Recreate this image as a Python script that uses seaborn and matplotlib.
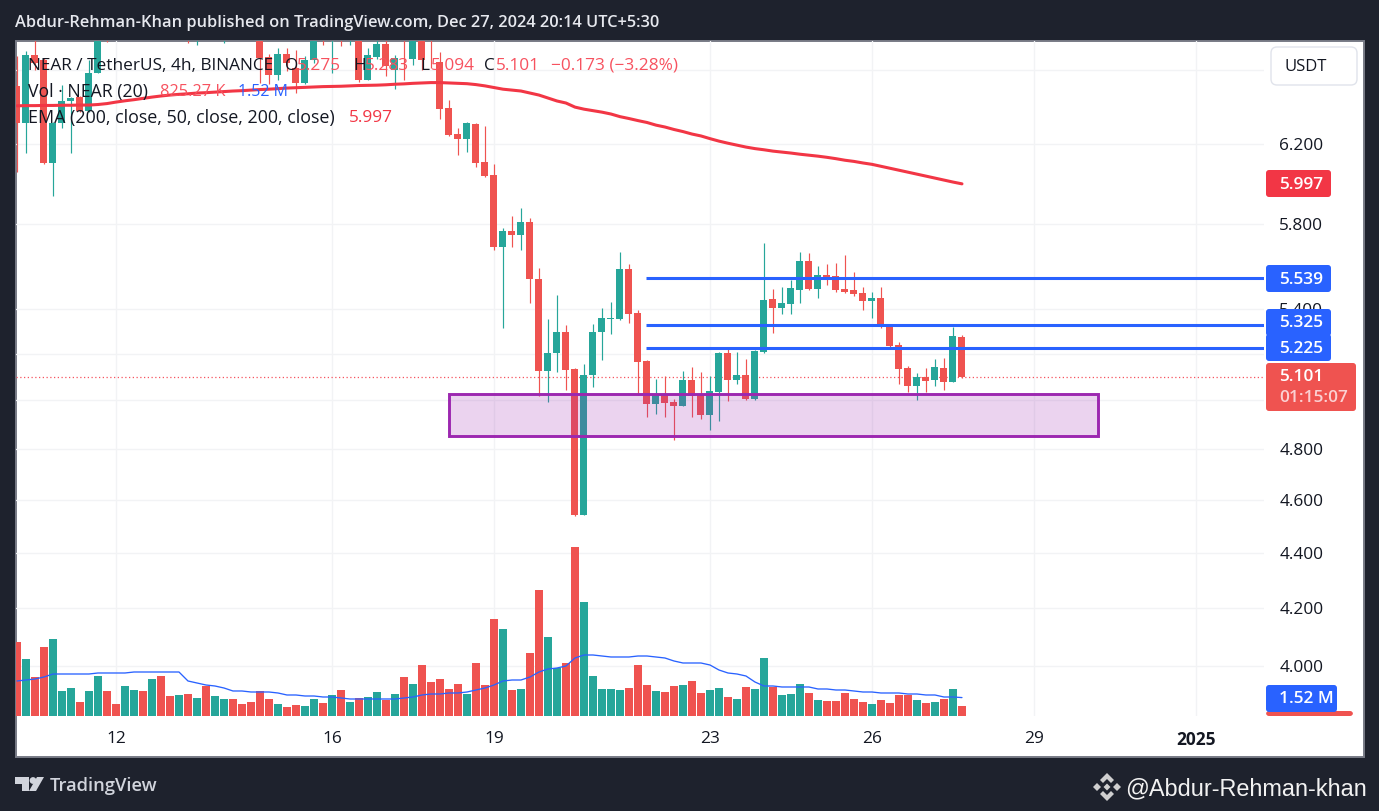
import numpy as np
import pandas as pd
import seaborn as sns
import matplotlib
matplotlib.use("Agg")
import matplotlib.pyplot as plt
from matplotlib.patches import FancyBboxPatch, Rectangle, Polygon, Circle
from matplotlib.ticker import FixedLocator, FuncFormatter, NullLocator
from matplotlib.transforms import IdentityTransform

# ---------- data ----------
bars = list(range(-11, 95))
opens = [6.510,6.311,6.681,6.653,6.101,6.311,6.429,6.450,6.375,6.581,6.950,
 6.900,6.840,6.920,6.980,6.920,7.020,6.940,6.900,6.950,6.870,6.930,6.860,6.860,6.910,6.870,6.840,
 6.800,6.670,6.570,6.686,6.609,6.526,6.653,6.860,6.800,6.880,6.830,6.760,6.543,6.670,6.743,6.598,
 6.860,6.659,6.850,6.800,6.642,6.391,6.253,6.227,6.306,6.107,6.041,5.687,5.764,5.745,5.807,5.537,
 5.126,5.204,5.296,5.134,4.543,5.108,5.296,5.354,5.354,5.583,5.381,5.169,4.986,5.028,4.995,4.978,
 5.087,5.024,4.941,5.037,5.204,5.087,5.108,5.007,5.208,5.445,5.403,5.422,5.486,5.620,5.490,5.555,
 5.550,5.490,5.486,5.472,5.436,5.449,5.331,5.239,5.139,5.062,5.100,5.087,5.139,5.079,5.275]
highs = [6.676,6.703,6.780,6.664,6.316,6.515,6.448,6.455,6.653,6.920,7.000,
 6.950,6.980,7.020,7.000,7.060,7.050,6.980,6.980,6.970,6.960,6.950,6.930,6.940,6.930,6.890,6.860,
 6.830,6.690,6.720,6.720,6.709,6.675,6.850,6.900,6.920,6.900,6.950,6.820,6.720,6.770,6.766,6.681,
 6.900,6.900,6.900,6.850,6.700,6.434,6.285,6.316,6.311,6.295,6.097,5.779,5.836,5.876,5.827,5.587,
 5.354,5.463,5.327,5.138,5.156,5.331,5.403,5.431,5.663,5.606,5.394,5.173,5.091,5.104,5.007,5.126,
 5.143,5.121,5.104,5.208,5.221,5.208,5.177,5.217,5.706,5.490,5.500,5.532,5.663,5.658,5.597,5.606,
 5.611,5.649,5.569,5.500,5.477,5.500,5.333,5.252,5.147,5.117,5.139,5.177,5.182,5.318,5.283]
lows = [6.056,6.154,6.600,6.096,5.936,6.285,6.154,6.370,6.370,6.580,6.755,
 6.800,6.800,6.880,6.860,6.890,6.900,6.850,6.840,6.750,6.738,6.800,6.820,6.750,6.840,6.800,6.780,
 6.526,6.520,6.543,6.592,6.472,6.520,6.640,6.740,6.581,6.731,6.738,6.532,6.543,6.660,6.565,6.493,
 6.543,6.625,6.598,6.609,6.332,6.245,6.143,6.159,6.081,6.030,5.673,5.314,5.687,5.673,5.426,5.020,
 4.995,5.121,5.045,4.539,4.540,5.058,5.173,5.287,5.350,5.336,5.024,4.932,4.945,4.932,4.838,4.975,
 4.932,4.924,4.878,4.916,4.999,5.070,5.003,5.003,5.205,5.291,5.376,5.376,5.426,5.486,5.449,5.509,
 5.477,5.474,5.458,5.394,5.358,5.314,5.230,5.070,5.037,5.003,5.037,5.062,5.045,5.076,5.094]
closes = [6.311,6.681,6.636,6.101,6.311,6.429,6.445,6.375,6.581,6.880,6.850,
 6.840,6.920,6.980,6.920,7.020,6.940,6.900,6.950,6.870,6.930,6.860,6.900,6.910,6.870,6.840,6.800,
 6.664,6.570,6.686,6.636,6.526,6.653,6.800,6.800,6.880,6.830,6.900,6.543,6.681,6.743,6.620,6.664,
 6.780,6.850,6.653,6.780,6.385,6.247,6.227,6.311,6.101,6.036,5.687,5.764,5.745,5.807,5.537,5.126,
 5.204,5.296,5.130,4.543,5.108,5.296,5.358,5.358,5.583,5.376,5.164,4.986,5.028,4.990,4.978,5.087,
 5.020,4.941,5.041,5.204,5.087,5.108,5.007,5.212,5.440,5.403,5.426,5.495,5.620,5.490,5.555,5.546,
 5.486,5.477,5.468,5.436,5.449,5.327,5.235,5.134,5.062,5.100,5.083,5.143,5.079,5.278,5.101]
vol_k = [6105,4703,3218,5693,6353,2063,2310,1155,2063,3300,2063,
 990,2475,2145,2063,3053,3300,1650,1733,1815,1485,2475,1650,1403,1403,990,1155,
 2063,1403,990,743,908,825,1403,1073,1733,2145,
 1155,1485,1568,1980,1320,1815,3218,2640,4208,2805,3053,2228,2640,1815,4373,2558,
 8003,7178,2145,2228,5198,10395,6518,3960,4373,13943,9405,3300,2228,2228,2145,2310,4208,2558,2063,1980,
 2475,2558,2888,1898,2145,2310,1568,1403,2393,2228,4785,2393,1733,1815,2640,1898,
 1320,1238,1238,1898,1403,1155,990,1320,1073,1733,1733,1320,1073,1155,1403,2228,825.27]
vol_side = list("RGRRGGGRGGR" "RGGRGRRGRGRGGRRR" "RRGRRGGRGR"
 "GRGGRGRGRRRRRGRR" "RGRGRRGGRRGGGGGRRRGR" "RGRRGGRGRGGRGGGR" "GRRRRRGRRRRGRGRGR")
vol_ma_k = [2888,2970,3053,3218,3465,3465,3465,3465,3465,3548,3548,
 3548,3548,3630,3630,3630,3630,3630,3630,2888,2723,2558,2475,2310,2063,2063,1980,
 1980,1980,1898,1733,1733,1650,1650,1568,1568,1485,
 1403,1403,1403,1403,1403,1403,1485,1568,1733,1815,1815,1898,1898,1980,2145,2310,
 2558,2888,2970,2970,3218,3630,3878,3960,4125,4785,5033,5033,4950,4868,4868,4868,4950,4950,4868,4785,
 4538,4373,4373,4373,4208,3795,3548,3465,3300,2805,2475,2475,2393,2393,2393,2393,
 2228,2228,2145,2145,2063,1980,1980,1898,1898,1898,1815,1815,1733,1733,1568,1568,1520]
ema = [6.403,6.404,6.404,6.405,6.405,6.406,6.406,6.407,6.407,6.410,6.415,
 6.423,6.430,6.436,6.443,6.450,6.456,6.461,6.465,6.468,6.472,6.474,6.477,6.480,6.483,6.485,6.488,
 6.491,6.493,6.496,6.499,6.501,6.503,6.505,6.507,6.508,6.509,6.511,6.513,6.514,6.515,6.517,6.520,
 6.522,6.525,6.527,6.529,6.529,6.527,6.525,6.523,6.518,6.511,6.502,6.493,6.488,6.483,6.472,6.461,
 6.445,6.429,6.418,6.396,6.385,6.377,6.369,6.359,6.345,6.335,6.324,6.314,6.300,6.290,6.277,6.266,
 6.253,6.243,6.229,6.216,6.205,6.195,6.185,6.177,6.171,6.164,6.159,6.154,6.148,6.143,6.138,6.132,
 6.125,6.117,6.111,6.103,6.096,6.086,6.076,6.066,6.056,6.046,6.036,6.026,6.016,6.006,5.997]
levels = [5.539, 5.325, 5.225]
level_start = 58.9
zone_low, zone_high = 4.854, 5.028
zone_start, zone_end = 37.0, 109.1
last_price = 5.101
price_ticks = [4.0,4.2,4.4,4.6,4.8,5.0,5.2,5.4,5.8,6.2,6.6]
time_ticks = [0,24,42,66,84,102,120]
time_labels = ["12","16","19","23","26","29","2025"]

df = pd.DataFrame(dict(bar=bars, o=opens, h=highs, l=lows, c=closes,
                       vol=vol_k, side=vol_side, ma=vol_ma_k, ema=ema))

# ---------- theme ----------
sns.set_theme(style="white")
plt.rcParams["font.family"] = ["Open Sans", "DejaVu Sans"]
RED, GREEN, BLUE, EMA_RED = "#EF5350", "#26A69A", "#2962FF", "#F23645"
DARK, INK, GRID = "#1E222D", "#131722", "#F2F3F5"
W, H = 1379, 811
fig = plt.figure(figsize=(W/100, H/100), dpi=100, facecolor=DARK)
px = IdentityTransform()
def Y(y): return H - y

fig.add_artist(Rectangle((15.5, Y(757)), 1348, 716, transform=px, facecolor="white",
                         edgecolor="#787B86", linewidth=1.4, zorder=-5))

ax = fig.add_axes([16/W, (H-716)/H, 1248/W, 675/H])
ax.patch.set_visible(False)
ax_v = ax.twinx()
ax.set_zorder(1); ax_v.set_zorder(2)

# volume pane
sns.barplot(data=df, x="bar", y="vol", hue="side", palette={"R": RED, "G": GREEN},
            native_scale=True, dodge=False, width=0.88, legend=False, ax=ax_v,
            saturation=1, errorbar=None, edgecolor="none", linewidth=0)
sns.lineplot(data=df, x="bar", y="ma", color=BLUE, linewidth=0.95, ax=ax_v,
             legend=False, errorbar=None)
ax_v.set_ylim(0, 675*82.5)
ax_v.set_axis_off()

# price pane
ax.set_yscale("log")
ax.set_ylim(3.8364, 6.761)
ax.set_xlim(-11.11, 127.56)
ax.grid(True, color=GRID, linewidth=1.0)
ax.set_axisbelow(True)

up = df[df.c >= df.o]; dn = df[df.c < df.o]
for part, col in ((up, GREEN), (dn, RED)):
    ax.vlines(part.bar, part.l, part.h, color=col, linewidth=0.85, zorder=3)
    ax.bar(part.bar, (part.c - part.o).abs().clip(lower=0.004),
           bottom=part[["o", "c"]].min(axis=1), width=0.78, color=col, zorder=3,
           edgecolor="none", linewidth=0)

sns.lineplot(data=df, x="bar", y="ema", color=EMA_RED, linewidth=2.2, ax=ax,
             legend=False, errorbar=None, zorder=5)

ax.add_patch(Rectangle((zone_start, zone_low), zone_end-zone_start, zone_high-zone_low,
                       facecolor="#9C27B0", alpha=0.2, edgecolor="none", zorder=4))
ax.add_patch(Rectangle((zone_start, zone_low), zone_end-zone_start, zone_high-zone_low,
                       facecolor="none", edgecolor="#9C27B0", linewidth=2.1, zorder=4))
ax.hlines(levels, level_start, 127.56, color=BLUE, linewidth=2.2, zorder=5)
ax.hlines(last_price, -11.11, 127.56, color="#F7525F", linewidth=0.9,
          linestyles=(0, (1, 2)), zorder=2)

ax.set_xlim(-11.11, 127.56)
ax_v.set_xlim(-11.11, 127.56)
ax.set_xlabel(""); ax.set_ylabel("")
ax.yaxis.tick_right()
ax.yaxis.set_major_locator(FixedLocator(price_ticks))
ax.yaxis.set_minor_locator(NullLocator())
ax.yaxis.set_major_formatter(FuncFormatter(lambda v, _: f"{v:.3f}"))
ax.set_xticks(time_ticks, time_labels)
ax.tick_params(axis="y", length=0, pad=11, labelsize=12.4, labelcolor=INK)
ax.tick_params(axis="x", length=0, pad=10.7, labelsize=12.4, labelcolor=INK)
ax.get_xticklabels()[-1].set_fontweight("bold")
for s in ax.spines.values():
    s.set_visible(False)

# ---------- overlay texts ----------
def T(x, y, s, color=INK, size=12.4, ha="left", weight="normal", **kw):
    fig.text(x, Y(y + 1.8), s, transform=px, color=color, fontsize=size, ha=ha, va="center",
             fontweight=weight, **kw)

def tag(x0, y0, x1, y1, color, z=6):
    fig.add_artist(FancyBboxPatch((x0, Y(y1)), x1-x0, y1-y0, transform=px,
                   boxstyle="round,pad=0,rounding_size=3", facecolor=color,
                   edgecolor="none", zorder=z))

T(15, 21, "Abdur-Rehman-Khan published on TradingView.com, Dec 27, 2024 20:14 UTC+5:30",
  color="#E6E8EE", size=11.8, weight="semibold")
VAL = "#F7525F"
T(28, 64, "NEAR / TetherUS, 4h, BINANCE")
for x, s, c in ((285, "O", INK), (297, "5.275", VAL), (353, "H", INK), (365, "5.283", VAL),
                (420, "L", INK), (431, "5.094", VAL), (484, "C", INK), (496, "5.101", VAL),
                (551, "−0.173 (−3.28%)", VAL)):
    T(x, 64, s, color=c)
T(28, 90, "Vol · NEAR (20)", size=12.7)
T(160, 90, "825.27 K", color=VAL, size=11.8)
T(238, 90, "1.52 M", color=BLUE, size=11.5)
T(28, 116, "EMA (200, close, 50, close, 200, close)", size=12.85)
T(349, 116, "5.997", color=EMA_RED)

# USDT button
fig.add_artist(FancyBboxPatch((1271, Y(85)), 86, 38, transform=px,
               boxstyle="round,pad=0,rounding_size=6", facecolor="white",
               edgecolor="#E0E3EB", linewidth=1, zorder=6))
T(1306, 65, "USDT", ha="center", size=12, zorder=8)

# price scale labels
tag(1266, 170, 1331, 197, EMA_RED)
T(1279, 183, "5.997", color="white", weight="semibold", zorder=8)
tag(1266, 265, 1331, 292, BLUE)
T(1279, 278, f"{levels[0]:.3f}", color="white", weight="semibold", zorder=8)
tag(1266, 309, 1331, 336, BLUE)
tag(1266, 334, 1331, 361, BLUE)
T(1279, 321, f"{levels[1]:.3f}", color="white", weight="semibold", zorder=8)
T(1279, 347, f"{levels[2]:.3f}", color="white", weight="semibold", zorder=8)
tag(1266, 363, 1356, 411, RED)
T(1279, 375, f"{last_price:.3f}", color="white", weight="semibold", zorder=8)
T(1279, 396, "01:15:07", color="#FBD0D2", weight="semibold", zorder=8)
tag(1266, 711, 1353, 716, RED)
tag(1266, 685, 1337, 712, BLUE)
T(1279, 697, "1.52 M", color="white", weight="semibold", zorder=8)

# footer logos and credits
LOGO = "#D1D4DC"
for pts in ([(15,777),(29,777),(29,791),(22,791),(22,784),(15,784)],
            [(37,777),(44,777),(36,791),(29,791)]):
    fig.add_artist(Polygon([(x, Y(y)) for x, y in pts], transform=px, facecolor=LOGO,
                           edgecolor="none", zorder=6))
fig.add_artist(Circle((33, Y(780.5)), 3.4, transform=px, facecolor=LOGO, edgecolor="none", zorder=6))
T(50, 784, "TradingView", color=LOGO, size=13.2, weight="semibold")

B = "#CFCFCF"; cx, cy = 1107, 787
for pts in ([(0,-14),(7,-7),(4,-4),(0,-8),(-4,-4),(-7,-7)],
            [(0,14),(7,7),(4,4),(0,8),(-4,4),(-7,7)],
            [(-14,0),(-10,-4),(-6,0),(-10,4)],
            [(14,0),(10,-4),(6,0),(10,4)],
            [(0,-3.5),(3.5,0),(0,3.5),(-3.5,0)]):
    fig.add_artist(Polygon([(cx+x, Y(cy+y)) for x, y in pts], transform=px, facecolor=B,
                           edgecolor="none", zorder=6))
T(1125, 787, "@Abdur-Rehman-khan", color="#F2F2F2", size=16.9, family=["Liberation Sans"])

fig.savefig("out.png", dpi=100, facecolor=DARK)
